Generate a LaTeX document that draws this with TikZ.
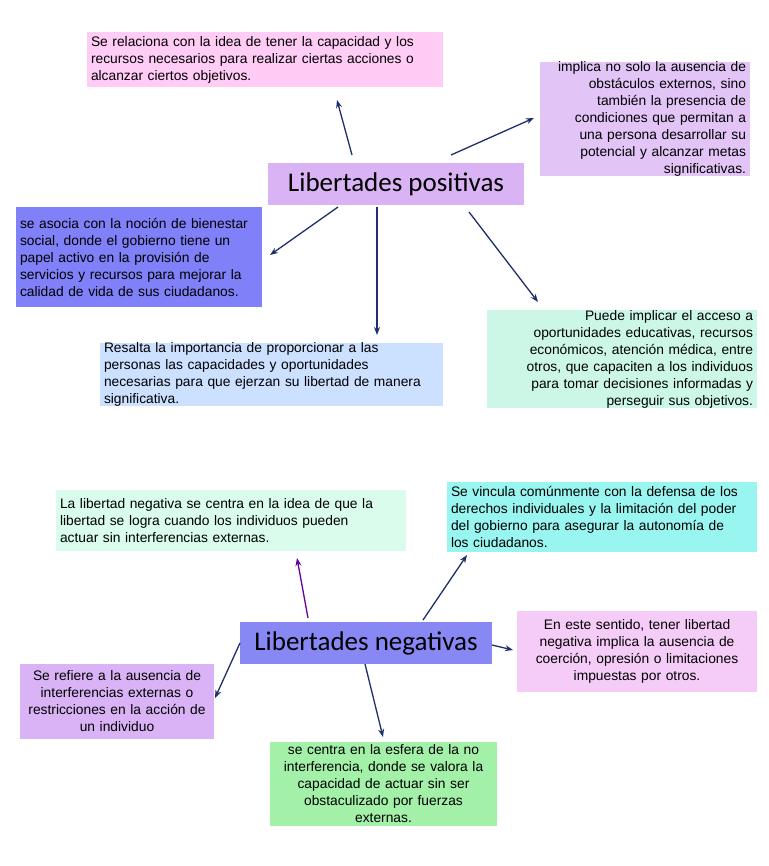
\documentclass[tikz,border=0pt]{standalone}
\usepackage{fontspec}
\usetikzlibrary{arrows.meta}
\setmainfont{Liberation Sans}
\newfontfamily\titlefont{Carlito}
\begin{document}
\begin{tikzpicture}[x=1pt,y=-1pt,
 bx/.style={inner sep=0pt,outer sep=0pt,font=\fontsize{13.8}{17}\selectfont,anchor=center},
 ttl/.style={inner sep=0pt,outer sep=0pt,font=\titlefont\fontsize{27}{30}\selectfont,anchor=center},
 arr/.style={draw=navy,line width=1.3pt,-{Stealth[length=8pt,width=6pt]}},
 arrp/.style={draw=violet!80!blue,line width=1.3pt,-{Stealth[length=8pt,width=6pt]}}]
\definecolor{navy}{HTML}{1F2F6B}
\definecolor{cA}{HTML}{FFCCF5}\definecolor{cB}{HTML}{E2C4F7}\definecolor{cT1}{HTML}{D9B3F3}
\definecolor{cC}{HTML}{8080F8}\definecolor{cD}{HTML}{CCE0FF}\definecolor{cE}{HTML}{CCF7E6}
\definecolor{cF}{HTML}{D9FCEC}\definecolor{cG}{HTML}{99F5F0}\definecolor{cT2}{HTML}{8888F5}
\definecolor{cH}{HTML}{F5CCF7}\definecolor{cI}{HTML}{D9B3F5}\definecolor{cJ}{HTML}{A3F0A8}
\useasboundingbox[fill=white] (0,0) rectangle (768,866);
\def\bxn#1#2#3#4#5#6#7#8{\node[bx,fill=#6,minimum width=#4-#2,minimum height=#5-#3,text width=#4-#2-8,align=#7] (#1) at ({(#2+#4)/2},{(#3+#5)/2}) {#8};}
\bxn{a}{87}{32}{443}{87}{cA}{left}{Se relaciona con la idea de tener la capacidad y los\\recursos necesarios para realizar ciertas acciones o\\alcanzar ciertos objetivos.\\[6pt]}
\bxn{b}{540}{63}{750}{175}{cB}{right}{implica no solo la ausencia de\\obstáculos externos, sino\\también la presencia de\\condiciones que permitan a\\una persona desarrollar su\\potencial y alcanzar metas\\significativas.}
\node[ttl,fill=cT1,minimum width=256,minimum height=42] (p) at (396,184) {Libertades positivas};
\bxn{c}{16}{207}{262}{307}{cC}{left}{se asocia con la noción de bienestar\\social, donde el gobierno tiene un\\papel activo en la provisión de\\servicios y recursos para mejorar la\\calidad de vida de sus ciudadanos.}
\bxn{d}{100}{345}{443}{404}{cD}{left}{Resalta la importancia de proporcionar a las\\personas las capacidades y oportunidades\\necesarias para que ejerzan su libertad de manera\\significativa.}
\bxn{e}{487}{313}{757}{405}{cE}{right}{Puede implicar el acceso a\\oportunidades educativas, recursos\\económicos, atención médica, entre\\otros, que capaciten a los individuos\\para tomar decisiones informadas y\\perseguir sus objetivos.}
\bxn{f}{56}{490}{406}{551}{cF}{left}{La libertad negativa se centra en la idea de que la\\libertad se logra cuando los individuos pueden\\actuar sin interferencias externas.\\[4pt]}
\bxn{g}{447}{482}{757}{552}{cG}{left}{Se vincula comúnmente con la defensa de los\\derechos individuales y la limitación del poder\\del gobierno para asegurar la autonomía de\\los ciudadanos.}
\node[ttl,fill=cT2,minimum width=252,minimum height=42] (n) at (366,643) {Libertades negativas};
\bxn{h}{517}{611}{757}{692}{cH}{center}{En este sentido, tener libertad\\negativa implica la ausencia de\\coerción, opresión o limitaciones\\impuestas por otros.}
\bxn{i}{20}{664}{214}{739}{cI}{center}{Se refiere a la ausencia de\\interferencias externas o\\restricciones en la acción de\\un individuo}
\bxn{j}{270}{742}{497}{826}{cJ}{center}{se centra en la esfera de la no\\interferencia, donde se valora la\\capacidad de actuar sin ser\\obstaculizado por fuerzas\\externas.}
\coordinate (p1) at (352,155);\coordinate (a1) at (337,100);
\coordinate (p2) at (451,155);\coordinate (b1) at (534,118);
\coordinate (p3) at (338,207);\coordinate (c1) at (270,255);
\coordinate (p4) at (377,207);\coordinate (d1) at (377,335);
\coordinate (p5) at (469,212);\coordinate (e1) at (538,302);
\draw[arr] (p1) -- (a1);\draw[arr] (p2) -- (b1);\draw[arr] (p3) -- (c1);
\draw[arr] (p4) -- (d1);\draw[arr] (p5) -- (e1);
\coordinate (n1) at (308,618);\coordinate (f1) at (297,558);
\coordinate (n2) at (423,620);\coordinate (g1) at (467,555);
\coordinate (n3) at (492,645);\coordinate (h1) at (513,650);
\coordinate (n4) at (240,643);\coordinate (i1) at (215,698);
\coordinate (n5) at (365,664);\coordinate (j1) at (383,737);
\draw[arrp] (n1) -- (f1);\draw[arr] (n2) -- (g1);\draw[arr] (n3) -- (h1);
\draw[arr] (n4) -- (i1);\draw[arr] (n5) -- (j1);
\end{tikzpicture}
\end{document}
